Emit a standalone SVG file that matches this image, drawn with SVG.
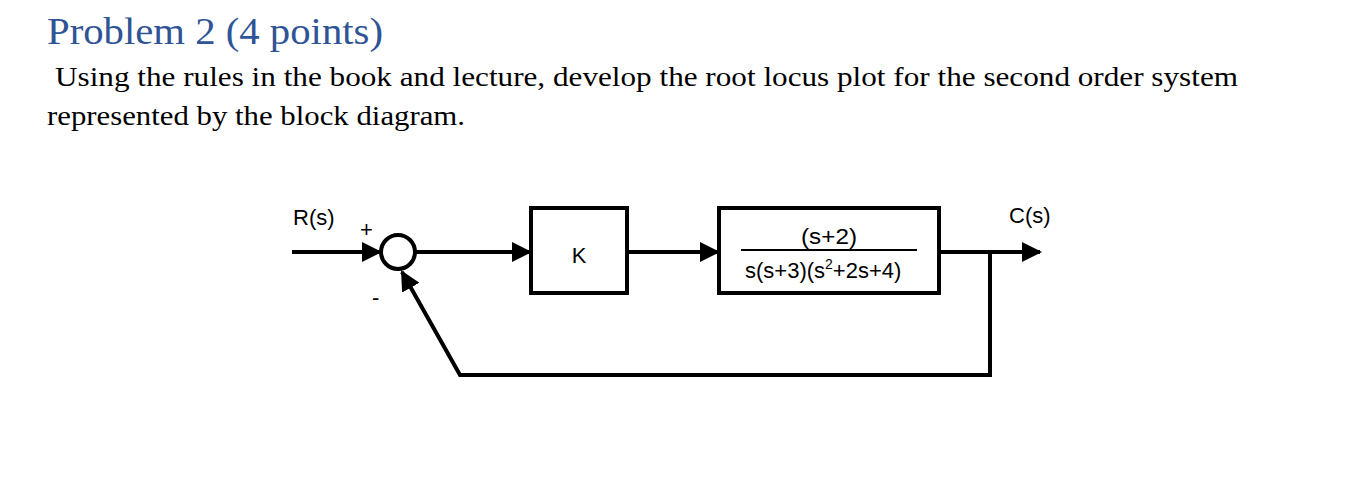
<svg xmlns="http://www.w3.org/2000/svg" width="1362" height="478" viewBox="0 0 1362 478">
<style>
.t{font-family:"Liberation Serif",serif;}
.s{font-family:"Liberation Sans",sans-serif;font-size:22px;fill:#000;}
.ln{stroke:#000;stroke-width:4;fill:none;}
</style>
<defs><marker id="a" markerWidth="5" markerHeight="5" refX="4.5" refY="2.5" orient="auto" markerUnits="strokeWidth"><path d="M0,0 L5,2.5 L0,5 Z" fill="#000"/></marker></defs>
<rect width="1362" height="478" fill="#fff"/>
<text class="t" x="47" y="44" font-size="37" fill="#2F5496" textLength="336" lengthAdjust="spacingAndGlyphs">Problem 2 (4 points)</text>
<text class="t" x="55" y="86" font-size="27" fill="#000" textLength="1183" lengthAdjust="spacingAndGlyphs">Using the rules in the book and lecture, develop the root locus plot for the second order system</text>
<text class="t" x="47" y="125" font-size="27" fill="#000" textLength="418" lengthAdjust="spacingAndGlyphs">represented by the block diagram.</text>
<g id="sum"><circle cx="398" cy="252" r="17" class="ln"/></g>
<g id="kblock"><rect x="531" y="208" width="96" height="85" class="ln"/><text class="s" x="579" y="263" text-anchor="middle">K</text></g>
<g id="plant"><rect x="719" y="208" width="220" height="85" class="ln"/>
<text class="s" x="801" y="244" textLength="56" lengthAdjust="spacingAndGlyphs">(s+2)</text>
<line x1="741" y1="250" x2="917" y2="250" stroke="#000" stroke-width="2"/>
<text class="s" x="745" y="278">s(s+3)(s<tspan font-size="14" dy="-9">2</tspan><tspan dy="9">+2s+4)</tspan></text></g>
<g id="connectors">
<line x1="292" y1="252" x2="380" y2="252" class="ln" marker-end="url(#a)"/>
<line x1="415" y1="252" x2="530" y2="252" class="ln" marker-end="url(#a)"/>
<line x1="627" y1="252" x2="718" y2="252" class="ln" marker-end="url(#a)"/>
<line x1="939" y1="252" x2="1040" y2="252" class="ln" marker-end="url(#a)"/>
<polyline points="990,252 990,375 460,375 402,272" class="ln" marker-end="url(#a)"/>
</g>
<g id="labels">
<text class="s" x="293" y="225">R(s)</text>
<text class="s" x="360" y="237" font-size="17">+</text>
<text class="s" x="372" y="305" font-size="17">-</text>
<text class="s" x="1009" y="223">C(s)</text>
</g>
</svg>
